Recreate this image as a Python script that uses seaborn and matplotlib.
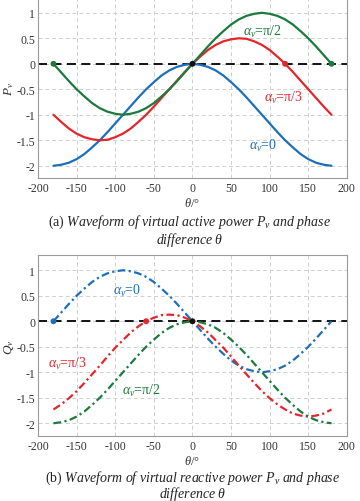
import matplotlib
matplotlib.use("Agg")
import matplotlib.pyplot as plt
import seaborn as sns

# phase difference samples (deg)
theta = list(range(-180, 181, 10))

# (a) virtual active power
p_a0 = [-2, -1.98, -1.94, -1.87, -1.77, -1.64, -1.5, -1.34, -1.17, -1, -0.83, -0.66, -0.5,
        -0.36, -0.23, -0.13, -0.06, -0.02, 0, -0.02, -0.06, -0.13, -0.23, -0.36, -0.5,
        -0.66, -0.83, -1, -1.17, -1.34, -1.5, -1.64, -1.77, -1.87, -1.94, -1.98, -2]
p_a3 = [-1, -1.14, -1.27, -1.37, -1.44, -1.48, -1.5, -1.49, -1.44, -1.37, -1.27, -1.14, -1,
        -0.84, -0.67, -0.5, -0.33, -0.16, 0, 0.14, 0.27, 0.37, 0.44, 0.48, 0.5,
        0.49, 0.44, 0.37, 0.27, 0.14, 0, -0.16, -0.33, -0.5, -0.67, -0.84, -1]
p_a2 = [0, -0.17, -0.34, -0.5, -0.64, -0.77, -0.87, -0.94, -0.98, -1, -0.98, -0.94, -0.87,
        -0.77, -0.64, -0.5, -0.34, -0.17, 0, 0.17, 0.34, 0.5, 0.64, 0.77, 0.87,
        0.94, 0.98, 1, 0.98, 0.94, 0.87, 0.77, 0.64, 0.5, 0.34, 0.17, 0]

# (b) virtual reactive power
q_a0 = [0, 0.17, 0.34, 0.5, 0.64, 0.77, 0.87, 0.94, 0.98, 1, 0.98, 0.94, 0.87,
        0.77, 0.64, 0.5, 0.34, 0.17, 0, -0.17, -0.34, -0.5, -0.64, -0.77, -0.87,
        -0.94, -0.98, -1, -0.98, -0.94, -0.87, -0.77, -0.64, -0.5, -0.34, -0.17, 0]
q_a3 = [-1.73, -1.63, -1.51, -1.37, -1.21, -1.04, -0.87, -0.69, -0.52, -0.37, -0.22, -0.1, 0,
        0.07, 0.12, 0.13, 0.12, 0.07, 0, -0.1, -0.22, -0.37, -0.52, -0.69, -0.87,
        -1.04, -1.21, -1.37, -1.51, -1.63, -1.73, -1.81, -1.85, -1.87, -1.85, -1.81, -1.73]
q_a2 = [-2, -1.98, -1.94, -1.87, -1.77, -1.64, -1.5, -1.34, -1.17, -1, -0.83, -0.66, -0.5,
        -0.36, -0.23, -0.13, -0.06, -0.02, 0, -0.02, -0.06, -0.13, -0.23, -0.36, -0.5,
        -0.66, -0.83, -1, -1.17, -1.34, -1.5, -1.64, -1.77, -1.87, -1.94, -1.98, -2]

# highlighted points (theta, value)
dots_a = {"green": ([-180, 180], [0, 0]), "red": ([120], [0]), "black": ([0], [0])}
dots_b = {"blue": ([-180], [0]), "red": ([-60], [0]), "black": ([0], [0])}

xticks = [-200, -150, -100, -50, 0, 50, 100, 150, 200]
yticks = [-2, -1.5, -1, -0.5, 0, 0.5, 1]
ytick_labels = ["-2", "-1.5", "-1", "-0.5", "0", "0.5", "1"]

labels = [r"$\alpha_{v}$=0", r"$\alpha_{v}$=π/3", r"$\alpha_{v}$=π/2"]

colors = {"blue": "#1c6fb8", "red": "#e2262c", "green": "#1b7a3c", "black": "#111111"}

sns.set_theme(style="white")
plt.rcParams["font.family"] = ["Liberation Serif", "DejaVu Serif"]
plt.rcParams["mathtext.fontset"] = "custom"
plt.rcParams["mathtext.rm"] = "Liberation Serif"
plt.rcParams["mathtext.it"] = "Liberation Serif:italic"
plt.rcParams["mathtext.bf"] = "Liberation Serif:bold"
plt.rcParams["axes.unicode_minus"] = False

fig = plt.figure(figsize=(3.6, 5.02), dpi=100)
ax_a = fig.add_axes([0.1056, 0.6434, 0.858, 0.3596])
ax_b = fig.add_axes([0.1056, 0.1295, 0.858, 0.3596])


def style_axes(ax, ylabel, ylim):
    ax.set_xlim(-200, 200)
    ax.set_ylim(*ylim)
    ax.set_xticks(xticks)
    ax.set_xticklabels([str(t) for t in xticks])
    ax.set_yticks(yticks)
    ax.set_yticklabels(ytick_labels)
    ax.grid(True, color="#cfcfcf", linestyle=(0, (4, 3)), linewidth=0.7)
    ax.set_axisbelow(True)
    for s in ax.spines.values():
        s.set_color("#9a9a9a")
        s.set_linewidth(0.8)
    ax.tick_params(direction="in", length=2.5, width=0.6, color="#9a9a9a",
                   labelsize=8.5, labelcolor="#333333", pad=3)
    ax.tick_params(axis="y", pad=2)
    ax.set_xlabel(r"$\theta$/°", fontsize=9, color="#333333", labelpad=1)
    ax.set_ylabel(ylabel, fontsize=9.5, color="#333333")
    ax.yaxis.set_label_coords(-0.072, 0.5)
    ax.axhline(0, color="black", linewidth=1.3, linestyle=(0, (5, 3)), zorder=2)


style_axes(ax_a, r"$P_{v}$", (-2.24, 1.3))
style_axes(ax_b, r"$Q_{v}$", (-2.25, 1.29))

solid = "-"
dashdot = (0, (3.5, 1.5, 1, 1.5))
for vals, c in [(p_a0, "blue"), (p_a3, "red"), (p_a2, "green")]:
    sns.lineplot(x=theta, y=vals, color=colors[c], linewidth=1.6,
                 linestyle=solid, ax=ax_a, zorder=3)
for vals, c in [(q_a0, "blue"), (q_a3, "red"), (q_a2, "green")]:
    sns.lineplot(x=theta, y=vals, color=colors[c], linewidth=1.6,
                 linestyle=dashdot, ax=ax_b, zorder=3)

for ax, dots in [(ax_a, dots_a), (ax_b, dots_b)]:
    for c, (xs, ys) in dots.items():
        sns.scatterplot(x=xs, y=ys, color=colors[c], s=18, ax=ax, zorder=4,
                        edgecolor="none")

# curve annotations
for ax, spots in [(ax_a, [(91, -1.6, "blue"), (118, -0.65, "red"), (90, 0.65, "green")]),
                  (ax_b, [(-85, 0.62, "blue"), (-162, -0.82, "red"), (-66, -1.34, "green")])]:
    for (x, y, c), txt in zip(spots, labels):
        ax.text(x, y, txt, color=colors[c], fontsize=10, ha="center", va="center")

cap_a1 = r"(a) $Waveform\ of\ virtual\ active\ power\ P_{v}\ and\ phase$"
cap_a2 = r"$difference\ \theta$"
cap_b1 = r"(b) $Waveform\ of\ virtual\ reactive\ power\ P_{v}\ and\ phase$"
cap_b2 = r"$difference\ \theta$"
fig.text(0.527, 0.5578, cap_a1, ha="center", va="center", fontsize=10, color="#222222")
fig.text(0.527, 0.5219, cap_a2, ha="center", va="center", fontsize=10, color="#222222")
fig.text(0.535, 0.0478, cap_b1, ha="center", va="center", fontsize=10, color="#222222")
fig.text(0.535, 0.0160, cap_b2, ha="center", va="center", fontsize=10, color="#222222")

fig.savefig("out.png", dpi=100)
